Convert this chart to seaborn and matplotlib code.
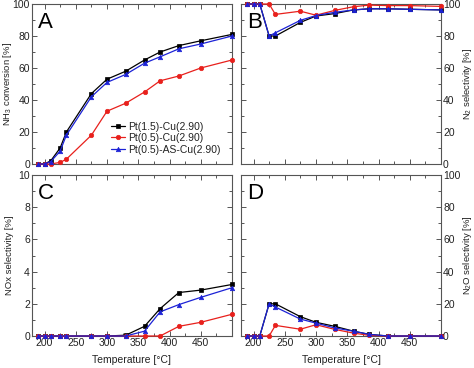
import numpy as np
import pandas as pd
import matplotlib
matplotlib.use("Agg")
import matplotlib.pyplot as plt
import seaborn as sns
from matplotlib.ticker import MultipleLocator, FixedLocator

# temperatures of the measuring points
temp = [190, 200, 210, 225, 235, 275, 300, 330, 360, 385, 415, 450, 500]

samples = ["Pt(1.5)-Cu(2.90)", "Pt(0.5)-Cu(2.90)", "Pt(0.5)-AS-Cu(2.90)"]
colors = ["black", "#e8201c", "#1c22d6"]
markers = ["s", "o", "^"]

# A: NH3 conversion [%]
nh3_pt15 = [0, 0, 2, 10, 20, 44, 53, 58, 65, 70, 74, 77, 81]
nh3_pt05 = [0, 0, 0, 1, 3, 18, 33, 38, 45, 52, 55, 60, 65]
nh3_as = [0, 0, 1.5, 8, 18, 42, 51, 56, 63, 67, 72, 75, 80]

# B: N2 selectivity [%]
n2_pt15 = [100, 100, 100, 80, 80, 88.5, 92.5, 94, 96.3, 97, 97, 96.7, 96.3]
n2_pt05 = [100, 100, 100, 100, 93.5, 95.5, 93, 96, 98.3, 99.3, 99, 99, 98.5]
n2_as = [100, 100, 100, 80, 82, 89.8, 92.8, 94.8, 96.3, 97, 97, 96.7, 96.3]

# C: NOx selectivity [%]
nox_pt15 = [0, 0, 0, 0, 0, 0, 0, 0.05, 0.6, 1.7, 2.7, 2.85, 3.2]
nox_pt05 = [0, 0, 0, 0, 0, 0, 0, 0, 0, 0, 0.6, 0.85, 1.35]
nox_as = [0, 0, 0, 0, 0, 0, 0, 0, 0.3, 1.5, 1.95, 2.4, 3.0]

# D: N2O selectivity [%]
n2o_pt15 = [0, 0, 0, 20, 20, 12, 8.5, 6, 3, 1, 0, 0, 0]
n2o_pt05 = [0, 0, 0, 0, 6.6, 4.2, 7, 4.1, 1.8, 0.4, 0, 0, 0]
n2o_as = [0, 0, 0, 20, 18, 10.5, 8, 5, 3, 1, 0, 0, 0]

sns.set_style("ticks")
plt.rcParams["font.family"] = ["Liberation Sans", "DejaVu Sans"]
plt.rcParams["mathtext.fontset"] = "custom"
plt.rcParams["mathtext.rm"] = "Liberation Sans"
plt.rcParams["mathtext.it"] = "Liberation Sans"

txt = "#222222"
spine = "#555555"
fs = 7.5

fig = plt.figure(figsize=(4.74, 3.68), dpi=100)
W, H = 474, 368


def make_ax(l, r, t, b):
    return fig.add_axes([l / W, 1 - b / H, (r - l) / W, (b - t) / H])


axA = make_ax(32, 232, 4, 164)
axB = make_ax(241, 441, 4, 164)
axC = make_ax(32, 232, 175, 336)
axD = make_ax(241, 441, 175, 336)

panels = [
    (axA, [nh3_pt15, nh3_pt05, nh3_as], "A", 100, 20, "NH$_3$ conversion [%]", "left"),
    (axB, [n2_pt15, n2_pt05, n2_as], "B", 100, 20, "N$_2$ selectivity [%]", "right"),
    (axC, [nox_pt15, nox_pt05, nox_as], "C", 10, 2, "NOx selectivity [%]", "left"),
    (axD, [n2o_pt15, n2o_pt05, n2o_as], "D", 100, 20, "N$_2$O selectivity [%]", "right"),
]

for ax, series, letter, ymax, ystep, ylabel, side in panels:
    for name, vals, c, m in zip(samples, series, colors, markers):
        df = pd.DataFrame({"T": temp, "v": vals})
        sns.lineplot(data=df, x="T", y="v", ax=ax, color=c, marker=m,
                     markersize=3.2, markeredgecolor=c, markeredgewidth=0.5,
                     linewidth=0.9, label=name, legend=False, clip_on=False,
                     zorder=3)
    ax.set_xlim(180, 500)
    ax.set_ylim(0, ymax)
    ax.xaxis.set_major_locator(FixedLocator([200, 250, 300, 350, 400, 450]))
    ax.xaxis.set_minor_locator(MultipleLocator(25))
    ax.yaxis.set_major_locator(MultipleLocator(ystep))
    ax.yaxis.set_minor_locator(MultipleLocator(ystep / 2))
    ax.tick_params(which="both", direction="in", top=True, bottom=True,
                   left=True, right=True, colors=spine, labelcolor=txt,
                   labelsize=fs, width=0.7, pad=1.5)
    ax.tick_params(which="major", length=3.5)
    ax.tick_params(which="minor", length=2)
    for s in ax.spines.values():
        s.set_color(spine)
        s.set_linewidth(0.8)
    ax.set_ylabel(ylabel, fontsize=6.8, color=txt)
    if side == "right":
        ax.yaxis.set_label_position("right")
        ax.tick_params(axis="y", labelleft=False, labelright=True)
        ax.yaxis.set_label_coords(1.1, 0.5)
    else:
        ax.yaxis.set_label_coords(-0.09, 0.5)
    ax.text(0.03, 0.95, letter, transform=ax.transAxes, fontsize=16,
            va="top", ha="left", color="black")
    if ax in (axC, axD):
        ax.set_xlabel("Temperature [°C]", fontsize=fs, color=txt, labelpad=5)
    else:
        ax.set_xlabel("")
        ax.tick_params(axis="x", labelbottom=False)

axA.legend(loc="lower left", bbox_to_anchor=(0.35, 0.0), frameon=False,
           fontsize=fs, handlelength=1.3, handletextpad=0.3,
           labelspacing=0.15, labelcolor=txt)

fig.savefig("out.png", dpi=100)
